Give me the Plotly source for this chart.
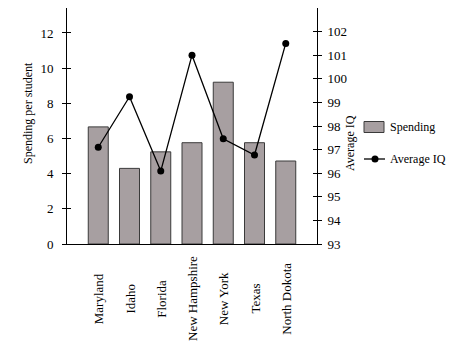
import plotly.graph_objects as go

states = ["Maryland", "Idaho", "Florida", "New Hampshire", "New York", "Texas", "North Dokota"]
spending = [6.66, 4.30, 5.24, 5.76, 9.2, 5.76, 4.72]
avg_iq = [97.1, 99.24, 96.09, 101.0, 97.46, 96.77, 101.5]
left_ticks = [0, 2, 4, 6, 8, 10, 12]
right_ticks = [93, 94, 95, 96, 97, 98, 99, 100, 101, 102]

FONT = "Liberation Serif, Times New Roman, serif"
BAR_FILL = "#a79fa1"
BAR_EDGE = "#3a3a3a"

fig = go.Figure()
fig.add_trace(go.Bar(
    x=states, y=spending, name="Spending", width=0.64,
    marker=dict(color=BAR_FILL, line=dict(color=BAR_EDGE, width=1)),
))
fig.add_trace(go.Scatter(
    x=states, y=avg_iq, name="Average IQ", yaxis="y2", mode="lines+markers",
    line=dict(color="black", width=1.3), marker=dict(color="black", size=7),
))
# empty traces to show inner half of crossing tick marks
fig.add_trace(go.Scatter(x=[None], y=[None], yaxis="y3", showlegend=False, hoverinfo="skip"))
fig.add_trace(go.Scatter(x=[None], y=[None], yaxis="y4", showlegend=False, hoverinfo="skip"))

L, R, T, B = 67, 133, 8, 106
pw, ph = 450 - L - R, 350 - T - B


def px(xp):
    return (xp - L) / pw


def py(yp):
    return (350 - B - yp) / ph


annotations = []
for s in states:
    annotations.append(dict(x=s, xref="x", y=py(299), yref="paper", text=s, textangle=-90,
                            showarrow=False, xanchor="center", yanchor="middle",
                            font=dict(family=FONT, size=13, color="black")))
annotations.append(dict(x=px(28), xref="paper", y=py(113), yref="paper",
                        text="Spending per student", textangle=-90, showarrow=False,
                        xanchor="center", yanchor="middle",
                        font=dict(family=FONT, size=12, color="black")))
annotations.append(dict(x=px(350), xref="paper", y=py(143), yref="paper",
                        text="Average IQ", textangle=-90, showarrow=False,
                        xanchor="center", yanchor="middle",
                        font=dict(family=FONT, size=12, color="black")))
# legend (drawn manually)
annotations.append(dict(x=px(388), xref="paper", y=py(127), yref="paper", text="Spending",
                        showarrow=False, xanchor="left", yanchor="middle",
                        font=dict(family=FONT, size=12, color="black")))
annotations.append(dict(x=px(388), xref="paper", y=py(159), yref="paper", text="Average IQ",
                        showarrow=False, xanchor="left", yanchor="middle",
                        font=dict(family=FONT, size=12, color="black")))
shapes = [
    dict(type="rect", xref="paper", yref="paper", x0=px(364), x1=px(384), y0=py(132.5), y1=py(121.5),
         fillcolor=BAR_FILL, line=dict(color=BAR_EDGE, width=1)),
    dict(type="line", xref="paper", yref="paper", x0=px(364), x1=px(385), y0=py(159), y1=py(159),
         line=dict(color="black", width=1.3)),
    dict(type="circle", xref="paper", yref="paper", x0=px(371.5), x1=px(378.5), y0=py(162.5), y1=py(155.5),
         fillcolor="black", line=dict(color="black", width=0)),
]

tick_common = dict(showgrid=False, zeroline=False, tickcolor="black", ticklen=4)

fig.update_layout(
    width=450, height=350,
    margin=dict(l=L, r=R, t=T, b=B),
    paper_bgcolor="white", plot_bgcolor="white",
    font=dict(family=FONT, size=13, color="black"),
    showlegend=False,
    xaxis=dict(type="category", range=[-1, 7], showticklabels=False, showline=True,
               linecolor="black", linewidth=1, ticks="", showgrid=False, zeroline=False),
    yaxis=dict(range=[0, 13.42], tickvals=left_ticks, showline=True,
               linecolor="black", linewidth=1, ticks="outside", ticklabelstandoff=6,
               tickfont=dict(family=FONT, size=13), **tick_common),
    yaxis2=dict(range=[93, 103], tickvals=right_ticks, overlaying="y", side="right",
                showline=True, linecolor="black", linewidth=1, ticks="outside",
                ticklabelstandoff=3,
                tickfont=dict(family=FONT, size=13), **tick_common),
    yaxis3=dict(range=[0, 13.42], tickvals=left_ticks, overlaying="y", side="left",
                showline=False, ticks="inside", showticklabels=False, **tick_common),
    yaxis4=dict(range=[93, 103], tickvals=right_ticks, overlaying="y", side="right",
                showline=False, ticks="inside", showticklabels=False, **tick_common),
    annotations=annotations,
    shapes=shapes,
)

fig.write_html("out.html")
